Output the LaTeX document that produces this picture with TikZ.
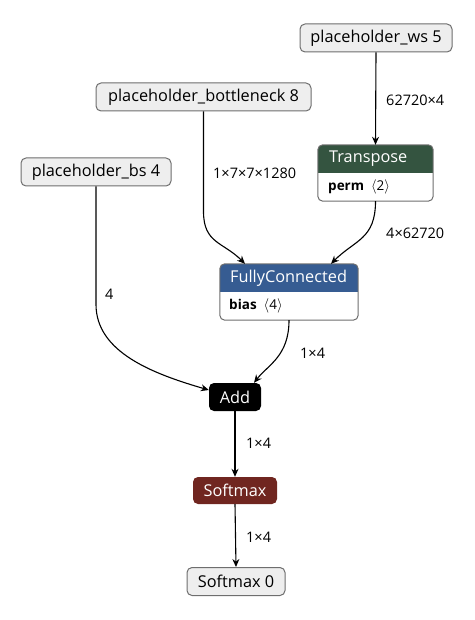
\documentclass[tikz,border=0pt]{standalone}
\usepackage{fontspec}
\setmainfont{Open Sans}
\usetikzlibrary{arrows.meta}
\definecolor{hdrgreen}{RGB}{52,84,64}
\definecolor{hdrblue}{RGB}{54,92,146}
\definecolor{hdrred}{RGB}{112,38,32}
\definecolor{phfill}{RGB}{238,238,238}
\definecolor{bordergray}{RGB}{110,110,110}
\tikzset{
  ph/.style={draw=bordergray, fill=phfill, rounded corners=5pt, line width=1pt, minimum height=28pt, inner sep=0pt, font=\fontsize{16.3}{18}\selectfont},
  opbox/.style={rounded corners=5pt, minimum height=28pt, inner sep=0pt, text=white, font=\fontsize{16.3}{18}\selectfont},
  frame/.style={draw=bordergray, rounded corners=5pt, line width=1pt, inner sep=0pt},
  hdr/.style={text=white, font=\fontsize{16.3}{18}\selectfont, inner sep=0pt, anchor=west},
  lbl/.style={font=\fontsize{14.5}{16}\selectfont, inner sep=0pt, anchor=west},
  attr/.style={font=\fontsize{13.5}{15}\selectfont, inner sep=0pt, anchor=west},
  conn/.style={line width=1.1pt, -{Stealth[length=8pt,width=7pt]}},
}
\begin{document}
\begin{tikzpicture}[x=1pt,y=-1pt]
\useasboundingbox (0,0) rectangle (474,620);
% placeholders
\node[ph, minimum width=152pt] (ws) at (376,38) {placeholder\_ws 5};
\node[ph, minimum width=215pt] (bn) at (203.5,97) {placeholder\_bottleneck 8};
\node[ph, minimum width=150pt] (bs) at (96,172) {placeholder\_bs 4};
% Transpose
\node[minimum width=115pt, minimum height=56pt, inner sep=0pt] (tr) at (375.5,173) {};
\begin{scope}
  \clip[rounded corners=5pt] (tr.south west) rectangle (tr.north east);
  \fill[white] (tr.south west) rectangle (tr.north east);
  \fill[hdrgreen] (tr.west) rectangle (tr.north east);
\end{scope}
\draw[frame] (tr.south west) rectangle (tr.north east);
\node[hdr] (trt) at (329,159) {Transpose};
\node[attr] (tra) at (328,187) {\textbf{perm}\ \ $\langle$2$\rangle$};
% FullyConnected
\node[minimum width=138pt, minimum height=56pt, inner sep=0pt] (fc) at (289,292) {};
\begin{scope}
  \clip[rounded corners=5pt] (fc.south west) rectangle (fc.north east);
  \fill[white] (fc.south west) rectangle (fc.north east);
  \fill[hdrblue] (fc.west) rectangle (fc.north east);
\end{scope}
\draw[frame] (fc.south west) rectangle (fc.north east);
\node[hdr] (fct) at (230,278) {FullyConnected};
\node[attr] (fca) at (229,306) {\textbf{bias}\ \ $\langle$4$\rangle$};
% Add, Softmax
\node[opbox, fill=black, minimum width=52pt] (add) at (235,397) {Add};
\node[opbox, fill=hdrred, minimum width=84pt, minimum height=27pt] (sm) at (235,490.5) {Softmax};
\node[ph, minimum width=98pt] (out) at (236,581.5) {Softmax 0};
% connectors
\draw[conn] (ws.south) -- (tr.north);
\draw[conn] (bn.south) -- ++(0,100) .. controls +(0,32) and +(-22,-22) .. ([xshift=-44pt]fc.north);
\draw[conn] (tr.south) .. controls +(0,38) and +(24,-24) .. ([xshift=42pt]fc.north);
\draw[conn] (bs.south) -- ++(0,118) .. controls +(0,48) and +(-55,-16) .. ([yshift=7pt]add.west);
\draw[conn] (fc.south) .. controls +(0,36) and +(14,-18) .. ([xshift=19pt]add.north);
\draw[conn] (add.south) -- (sm.north);
\draw[conn] (sm.south) -- (out.north);
% labels
\node[lbl] (l1) at (386,100) {62720×4};
\node[lbl] (l2) at (213,173) {1×7×7×1280};
\node[lbl] (l3) at (386,233) {4×62720};
\node[lbl] (l4) at (105,294) {4};
\node[lbl] (l5) at (300,353) {1×4};
\node[lbl] (l6) at (246,443) {1×4};
\node[lbl] (l7) at (246,537) {1×4};
\end{tikzpicture}
\end{document}
